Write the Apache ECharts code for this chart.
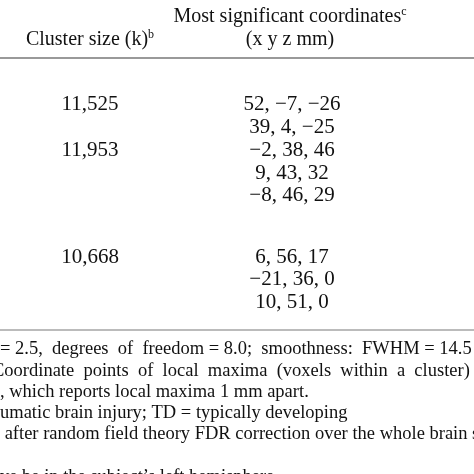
<!DOCTYPE html>
<html><head><meta charset="utf-8">
<script src="https://cdn.jsdelivr.net/npm/echarts@6/dist/echarts.min.js"></script>
<style>html,body{margin:0;background:#fff}#c{width:474px;height:474px}</style>
</head><body><div id="c"></div>
<script>
const clusterSizes = ['11,525', '11,953', '10,668']
const clusterRowIdx = [0, 2, 5]
const coords = ['52, \u22127, \u221226', '39, 4, \u221225', '\u22122, 38, 46', '9, 43, 32', '\u22128, 46, 29',
  '6, 56, 17', '\u221221, 36, 0', '10, 51, 0']
const rowY = [104, 127, 150, 173, 195, 257, 279, 302]
const footnotes = [
  '= 2.5,  degrees  of  freedom = 8.0;  smoothness:  FWHM = 14.5  1',
  'Coordinate  points  of  local  maxima  (voxels  within  a  cluster)  are  g',
  ', which reports local maxima 1 mm apart.',
  'umatic brain injury; TD = typically developing',
  ' after random field theory FDR correction over the whole brain s',
  '',
  've be in the subject\u2019s left hemisphere'
]
const footX = [0, -8, 0, 0, 0, 0, 0]
const footY = [349, 371, 392, 413, 434, 456, 477]

const font = '"Liberation Serif", "DejaVu Serif", serif'
const txt = (x, y, text, align, size) => ({
  type: 'text', x, y,
  style: {
    text, fill: '#111', font: `${size}px ${font}`, align: align || 'center', verticalAlign: 'middle',
    rich: { sup: { fontSize: 12, verticalAlign: 'top', padding: [0, 0, 11, 0], fontFamily: font, fill: '#111' } }
  }
})

const elements = [
  txt(290, 17, 'Most significant coordinates{sup|c}', 'center', 20),
  txt(90, 40, 'Cluster size (k){sup|b}', 'center', 20),
  txt(290, 40, '(x y z mm)', 'center', 20),
  { type: 'rect', shape: { x: 0, y: 57, width: 474, height: 2 }, style: { fill: '#999' } },
  { type: 'rect', shape: { x: 0, y: 329, width: 474, height: 2 }, style: { fill: '#bbb' } }
]
clusterRowIdx.forEach((r, i) => elements.push(txt(90, rowY[r], clusterSizes[i], 'center', 21)))
coords.forEach((c, i) => elements.push(txt(292, rowY[i], c, 'center', 21)))
footnotes.forEach((f, i) => f && elements.push(txt(footX[i], footY[i], f, 'left', 18.5)))

const chart = echarts.init(document.getElementById('c'))
chart.setOption({ animation: false, graphic: { elements } })
</script></body></html>
